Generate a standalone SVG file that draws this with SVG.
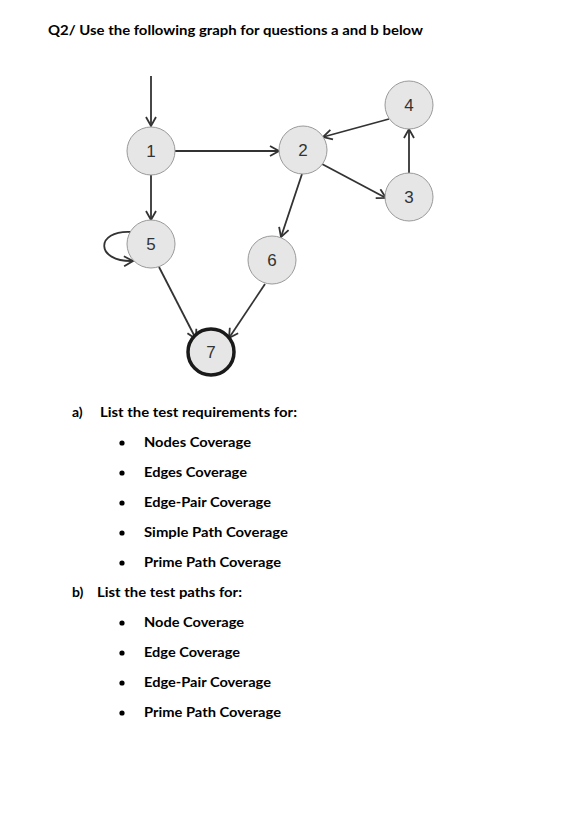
<svg xmlns="http://www.w3.org/2000/svg" width="563" height="815" viewBox="0 0 563 815">
<style>
.node{fill:#e6e6e6;stroke:#9a9a9a;stroke-width:1}
.final{fill:#e6e6e6;stroke:#1a1a1a;stroke-width:3.5}
.lbl{font-family:"Liberation Sans",Arial,sans-serif;font-size:17px;fill:#333;text-anchor:middle}
.edge{fill:none;stroke:#333;stroke-width:1.8}
.t{font-family:Lato,"Open Sans",sans-serif;font-weight:bold;font-size:14px;fill:#000}
.b{fill:#000}
</style>
<defs>
<marker id="ah" markerWidth="12" markerHeight="12" refX="10" refY="6" orient="auto" markerUnits="userSpaceOnUse">
<path d="M1,1 L10,6 L1,11" fill="none" stroke="#333" stroke-width="1.8"/>
</marker>
</defs>
<rect width="563" height="815" fill="#fff"/>
<text class="t" x="48" y="35" textLength="375" lengthAdjust="spacingAndGlyphs">Q2/ Use the following graph for questions a and b below</text>
<g id="connectors">
<path class="edge" d="M151,76 L151,126" marker-end="url(#ah)"/>
<path class="edge" d="M175,151 L279,151" marker-end="url(#ah)"/>
<path class="edge" d="M151,175 L151,220" marker-end="url(#ah)"/>
<path class="edge" d="M131,232 C95,230 95,262 133,261" marker-end="url(#ah)"/>
<path class="edge" d="M159,267 L196,339" marker-end="url(#ah)"/>
<path class="edge" d="M265,284 L229,338" marker-end="url(#ah)"/>
<path class="edge" d="M302,174 L281,237" marker-end="url(#ah)"/>
<path class="edge" d="M322,164 L386,198" marker-end="url(#ah)"/>
<path class="edge" d="M409,173 L409,129" marker-end="url(#ah)"/>
<path class="edge" d="M389,119 L323,137" marker-end="url(#ah)"/>
</g>
<g id="n1"><circle class="node" cx="151" cy="151" r="24"/><text class="lbl" x="151" y="157">1</text></g>
<g id="n2"><circle class="node" cx="303" cy="150" r="24"/><text class="lbl" x="303" y="156">2</text></g>
<g id="n3"><circle class="node" cx="409" cy="197" r="24"/><text class="lbl" x="409" y="203">3</text></g>
<g id="n4"><circle class="node" cx="409" cy="105" r="24"/><text class="lbl" x="409" y="111">4</text></g>
<g id="n5"><circle class="node" cx="151" cy="244" r="24"/><text class="lbl" x="151" y="250">5</text></g>
<g id="n6"><circle class="node" cx="272" cy="260" r="24"/><text class="lbl" x="272" y="266">6</text></g>
<g id="n7"><circle class="final" cx="211" cy="352" r="23"/><text class="lbl" x="211" y="358">7</text></g>
<text class="t" x="72" y="417">a)</text>
<text class="t" x="100" y="417" textLength="197" lengthAdjust="spacingAndGlyphs">List the test requirements for:</text>
<circle class="b" cx="122" cy="443" r="2.6"/><text class="t" x="144" y="447" textLength="107" lengthAdjust="spacingAndGlyphs">Nodes Coverage</text>
<circle class="b" cx="122" cy="473" r="2.6"/><text class="t" x="144" y="477" textLength="103" lengthAdjust="spacingAndGlyphs">Edges Coverage</text>
<circle class="b" cx="122" cy="503" r="2.6"/><text class="t" x="144" y="507" textLength="127" lengthAdjust="spacingAndGlyphs">Edge-Pair Coverage</text>
<circle class="b" cx="122" cy="533" r="2.6"/><text class="t" x="144" y="537" textLength="144" lengthAdjust="spacingAndGlyphs">Simple Path Coverage</text>
<circle class="b" cx="122" cy="563" r="2.6"/><text class="t" x="144" y="567" textLength="137" lengthAdjust="spacingAndGlyphs">Prime Path Coverage</text>
<text class="t" x="72" y="597">b)</text>
<text class="t" x="97" y="597" textLength="145" lengthAdjust="spacingAndGlyphs">List the test paths for:</text>
<circle class="b" cx="122" cy="623" r="2.6"/><text class="t" x="144" y="627" textLength="100" lengthAdjust="spacingAndGlyphs">Node Coverage</text>
<circle class="b" cx="122" cy="653" r="2.6"/><text class="t" x="144" y="657" textLength="96" lengthAdjust="spacingAndGlyphs">Edge Coverage</text>
<circle class="b" cx="122" cy="683" r="2.6"/><text class="t" x="144" y="687" textLength="127" lengthAdjust="spacingAndGlyphs">Edge-Pair Coverage</text>
<circle class="b" cx="122" cy="713" r="2.6"/><text class="t" x="144" y="717" textLength="137" lengthAdjust="spacingAndGlyphs">Prime Path Coverage</text>
</svg>
